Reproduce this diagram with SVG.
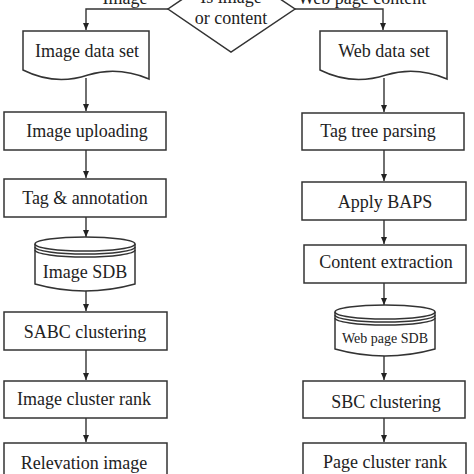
<svg xmlns="http://www.w3.org/2000/svg" width="474" height="474" viewBox="0 0 474 474">
<defs>
<marker id="ah" markerWidth="8" markerHeight="8" refX="7" refY="4" orient="auto" markerUnits="userSpaceOnUse">
<path d="M0,1 L7,4 L0,7 Z" fill="#222"/>
</marker>
<style>
.s{fill:#fff;stroke:#333;stroke-width:1.5}
.c{fill:none;stroke:#333;stroke-width:1.4}
.t{font-family:"Liberation Serif","Times New Roman",serif;font-size:18px;fill:#222;text-anchor:middle}
.sm{font-size:14px}
</style>
</defs>
<rect width="474" height="474" fill="#fff"/>
<g id="connectors">
<path class="c" d="M168,9 H86 V30" marker-end="url(#ah)"/>
<path class="c" d="M295,9 H383 V30" marker-end="url(#ah)"/>
<path class="c" d="M86,78 V111" marker-end="url(#ah)"/>
<path class="c" d="M384,78 V112" marker-end="url(#ah)"/>
<path class="c" d="M86,150 V178" marker-end="url(#ah)"/>
<path class="c" d="M86,217 V237" marker-end="url(#ah)"/>
<path class="c" d="M86,291 V311" marker-end="url(#ah)"/>
<path class="c" d="M86,350 V380" marker-end="url(#ah)"/>
<path class="c" d="M86,418 V442" marker-end="url(#ah)"/>
<path class="c" d="M384,150 V181" marker-end="url(#ah)"/>
<path class="c" d="M384,220 V244" marker-end="url(#ah)"/>
<path class="c" d="M384,283 V305" marker-end="url(#ah)"/>
<path class="c" d="M384,356 V380" marker-end="url(#ah)"/>
<path class="c" d="M384,418 V442" marker-end="url(#ah)"/>
<text class="t" x="125" y="4">Image</text>
<text class="t" x="362" y="4">Web page content</text>
</g>
<g id="decision">
<path class="s" d="M231,-34 L295,9 L231,52 L168,9 Z"/>
<text class="t" x="231" y="3">Is image</text>
<text class="t" x="231" y="24">or content</text>
</g>
<g id="image-data-set">
<path class="s" d="M23,31 H149 V79 Q118,66 88,75 Q55,86 23,70 Z"/>
<text class="t" x="87" y="57">Image data set</text>
</g>
<g id="web-data-set">
<path class="s" d="M320,31 H447 V79 Q416,66 386,75 Q352,86 320,70 Z"/>
<text class="t" x="384" y="57">Web data set</text>
</g>
<g id="image-uploading">
<rect class="s" x="4" y="112" width="162" height="38"/>
<text class="t" x="87" y="137">Image uploading</text>
</g>
<g id="tag-annotation">
<rect class="s" x="4" y="179" width="162" height="38"/>
<text class="t" x="85" y="204">Tag &amp; annotation</text>
</g>
<g id="image-sdb">
<path class="s" d="M35,244 V284 Q85,298 135,284 V244"/>
<ellipse class="s" cx="85" cy="244" rx="50" ry="7"/>
<path class="c" d="M35,247 A50,7 0 0 0 135,247"/>
<path class="c" d="M35,250 A50,7 0 0 0 135,250"/>
<text class="t" x="85" y="278">Image SDB</text>
</g>
<g id="sabc-clustering">
<rect class="s" x="4" y="312" width="163" height="38"/>
<text class="t" x="85" y="338">SABC clustering</text>
</g>
<g id="image-cluster-rank">
<rect class="s" x="4" y="381" width="163" height="37"/>
<text class="t" x="84" y="405">Image cluster rank</text>
</g>
<g id="relevation-image">
<rect class="s" x="4" y="443" width="163" height="40"/>
<text class="t" x="84" y="469">Relevation image</text>
</g>
<g id="tag-tree-parsing">
<rect class="s" x="302" y="113" width="162" height="37"/>
<text class="t" x="378" y="137">Tag tree parsing</text>
</g>
<g id="apply-baps">
<rect class="s" x="302" y="182" width="164" height="38"/>
<text class="t" x="385" y="208">Apply BAPS</text>
</g>
<g id="content-extraction">
<rect class="s" x="304" y="245" width="162" height="38"/>
<text class="t" x="386" y="268">Content extraction</text>
</g>
<g id="web-page-sdb">
<path class="s" d="M335,312 V349 Q385,363 435,349 V312"/>
<ellipse class="s" cx="385" cy="312" rx="50" ry="7"/>
<path class="c" d="M335,315 A50,7 0 0 0 435,315"/>
<path class="c" d="M335,318 A50,7 0 0 0 435,318"/>
<text class="t sm" x="385" y="343">Web page SDB</text>
</g>
<g id="sbc-clustering">
<rect class="s" x="303" y="381" width="162" height="37"/>
<text class="t" x="386" y="408">SBC clustering</text>
</g>
<g id="page-cluster-rank">
<rect class="s" x="303" y="443" width="163" height="40"/>
<text class="t" x="385" y="468">Page cluster rank</text>
</g>
</svg>
